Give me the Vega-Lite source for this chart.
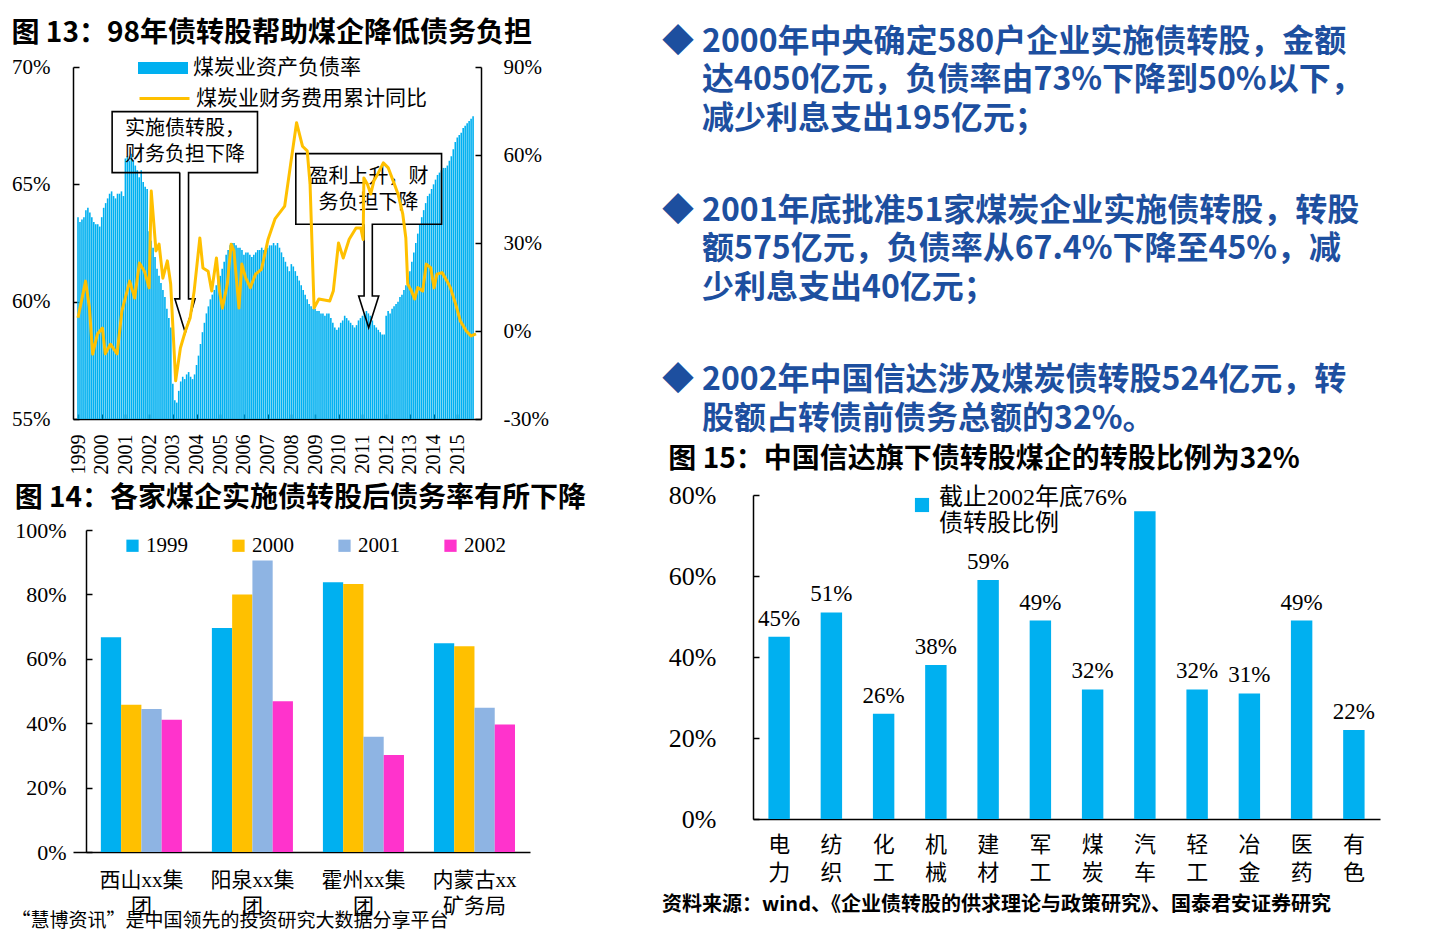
{
  "$schema": "https://vega.github.io/schema/vega-lite/v6.json",
  "background": "white",
  "padding": {"left": 11, "top": 19, "right": 5, "bottom": 0},
  "config": {
    "view": {"stroke": null},
    "font": "Noto Sans CJK SC",
    "axis": {"grid": false, "domainColor": "#000", "tickColor": "#000", "labelColor": "#000", "domainWidth": 1.5, "tickWidth": 1.5, "labelOverlap": false},
    "title": {"color": "#000"},
    "legend": {"labelColor": "#000"}
  },
  "datasets": {
    "bars13": [
      {"t":1999,"v":63.6},{"t":1999.083,"v":63.4},{"t":1999.167,"v":63.5},{"t":1999.25,"v":63.6},{"t":1999.333,"v":63.9},{"t":1999.417,"v":64.0},{"t":1999.5,"v":63.8},{"t":1999.583,"v":63.6},{"t":1999.667,"v":63.4},{"t":1999.75,"v":63.3},{"t":1999.833,"v":63.3},{"t":1999.917,"v":63.2},
      {"t":2000,"v":63.6},{"t":2000.083,"v":64.0},{"t":2000.167,"v":64.2},{"t":2000.25,"v":64.4},{"t":2000.333,"v":64.6},{"t":2000.417,"v":64.7},{"t":2000.5,"v":64.5},{"t":2000.583,"v":64.4},{"t":2000.667,"v":64.6},{"t":2000.75,"v":64.6},{"t":2000.833,"v":64.7},{"t":2000.917,"v":64.5},
      {"t":2001,"v":66.1},{"t":2001.083,"v":66.2},{"t":2001.167,"v":66.0},{"t":2001.25,"v":66.3},{"t":2001.333,"v":66.0},{"t":2001.417,"v":65.8},{"t":2001.5,"v":65.6},{"t":2001.583,"v":65.3},{"t":2001.667,"v":65.6},{"t":2001.75,"v":65.1},{"t":2001.833,"v":64.9},{"t":2001.917,"v":64.8},
      {"t":2002,"v":63.0},{"t":2002.083,"v":62.6},{"t":2002.167,"v":62.3},{"t":2002.25,"v":61.9},{"t":2002.333,"v":61.4},{"t":2002.417,"v":61.1},{"t":2002.5,"v":60.8},{"t":2002.583,"v":60.5},{"t":2002.667,"v":60.2},{"t":2002.75,"v":59.7},{"t":2002.833,"v":59.3},{"t":2002.917,"v":58.9},
      {"t":2003,"v":56.5},{"t":2003.083,"v":55.8},{"t":2003.167,"v":55.7},{"t":2003.25,"v":56.2},{"t":2003.333,"v":56.6},{"t":2003.417,"v":56.8},{"t":2003.5,"v":56.7},{"t":2003.583,"v":56.9},{"t":2003.667,"v":57.0},{"t":2003.75,"v":56.8},{"t":2003.833,"v":56.7},{"t":2003.917,"v":56.9},
      {"t":2004,"v":57.3},{"t":2004.083,"v":57.7},{"t":2004.167,"v":58.2},{"t":2004.25,"v":58.7},{"t":2004.333,"v":59.1},{"t":2004.417,"v":59.5},{"t":2004.5,"v":59.8},{"t":2004.583,"v":60.1},{"t":2004.667,"v":60.3},{"t":2004.75,"v":60.5},{"t":2004.833,"v":60.7},{"t":2004.917,"v":60.9},
      {"t":2005,"v":61.1},{"t":2005.083,"v":61.4},{"t":2005.167,"v":61.7},{"t":2005.25,"v":62.0},{"t":2005.333,"v":62.2},{"t":2005.417,"v":62.4},{"t":2005.5,"v":62.5},{"t":2005.583,"v":62.5},{"t":2005.667,"v":62.4},{"t":2005.75,"v":62.3},{"t":2005.833,"v":62.3},{"t":2005.917,"v":62.2},
      {"t":2006,"v":62.0},{"t":2006.083,"v":62.1},{"t":2006.167,"v":62.1},{"t":2006.25,"v":62.0},{"t":2006.333,"v":61.9},{"t":2006.417,"v":62.0},{"t":2006.5,"v":62.1},{"t":2006.583,"v":62.2},{"t":2006.667,"v":62.2},{"t":2006.75,"v":62.3},{"t":2006.833,"v":62.2},{"t":2006.917,"v":62.1},
      {"t":2007,"v":62.3},{"t":2007.083,"v":62.4},{"t":2007.167,"v":62.4},{"t":2007.25,"v":62.5},{"t":2007.333,"v":62.4},{"t":2007.417,"v":62.5},{"t":2007.5,"v":62.3},{"t":2007.583,"v":62.1},{"t":2007.667,"v":61.9},{"t":2007.75,"v":61.7},{"t":2007.833,"v":61.5},{"t":2007.917,"v":61.3},
      {"t":2008,"v":61.6},{"t":2008.083,"v":61.5},{"t":2008.167,"v":61.3},{"t":2008.25,"v":61.1},{"t":2008.333,"v":60.9},{"t":2008.417,"v":60.7},{"t":2008.5,"v":60.5},{"t":2008.583,"v":60.3},{"t":2008.667,"v":60.1},{"t":2008.75,"v":59.9},{"t":2008.833,"v":59.8},{"t":2008.917,"v":59.7},
      {"t":2009,"v":59.7},{"t":2009.083,"v":59.6},{"t":2009.167,"v":59.6},{"t":2009.25,"v":59.5},{"t":2009.333,"v":59.5},{"t":2009.417,"v":59.4},{"t":2009.5,"v":59.5},{"t":2009.583,"v":59.5},{"t":2009.667,"v":59.3},{"t":2009.75,"v":59.1},{"t":2009.833,"v":58.9},{"t":2009.917,"v":58.8},
      {"t":2010,"v":58.9},{"t":2010.083,"v":59.1},{"t":2010.167,"v":59.2},{"t":2010.25,"v":59.4},{"t":2010.333,"v":59.3},{"t":2010.417,"v":59.2},{"t":2010.5,"v":59.1},{"t":2010.583,"v":59.0},{"t":2010.667,"v":58.9},{"t":2010.75,"v":59.0},{"t":2010.833,"v":59.2},{"t":2010.917,"v":59.3},
      {"t":2011,"v":59.4},{"t":2011.083,"v":59.5},{"t":2011.167,"v":59.6},{"t":2011.25,"v":59.5},{"t":2011.333,"v":59.4},{"t":2011.417,"v":59.2},{"t":2011.5,"v":59.0},{"t":2011.583,"v":58.9},{"t":2011.667,"v":58.8},{"t":2011.75,"v":58.7},{"t":2011.833,"v":58.6},{"t":2011.917,"v":58.6},
      {"t":2012,"v":59.4},{"t":2012.083,"v":59.6},{"t":2012.167,"v":59.5},{"t":2012.25,"v":59.7},{"t":2012.333,"v":59.8},{"t":2012.417,"v":59.9},{"t":2012.5,"v":60.0},{"t":2012.583,"v":60.2},{"t":2012.667,"v":60.3},{"t":2012.75,"v":60.5},{"t":2012.833,"v":60.7},{"t":2012.917,"v":61.0},
      {"t":2013,"v":61.3},{"t":2013.083,"v":61.7},{"t":2013.167,"v":62.1},{"t":2013.25,"v":62.5},{"t":2013.333,"v":62.9},{"t":2013.417,"v":63.3},{"t":2013.5,"v":63.6},{"t":2013.583,"v":63.9},{"t":2013.667,"v":64.2},{"t":2013.75,"v":64.5},{"t":2013.833,"v":64.6},{"t":2013.917,"v":64.8},
      {"t":2014,"v":65.0},{"t":2014.083,"v":65.2},{"t":2014.167,"v":65.4},{"t":2014.25,"v":65.5},{"t":2014.333,"v":65.6},{"t":2014.417,"v":65.7},{"t":2014.5,"v":65.7},{"t":2014.583,"v":65.8},{"t":2014.667,"v":66.0},{"t":2014.75,"v":66.2},{"t":2014.833,"v":66.5},{"t":2014.917,"v":66.8},
      {"t":2015,"v":67.0},{"t":2015.083,"v":67.1},{"t":2015.167,"v":67.2},{"t":2015.25,"v":67.4},{"t":2015.333,"v":67.5},{"t":2015.417,"v":67.6},{"t":2015.5,"v":67.7},{"t":2015.583,"v":67.8},{"t":2015.667,"v":67.9}
    ],
    "line13": [
      {"t":1999.00,"v":4.5},{"t":1999.32,"v":17},{"t":1999.48,"v":8},{"t":1999.62,"v":-7.9},{"t":1999.82,"v":-1},
      {"t":2000.03,"v":1},{"t":2000.15,"v":-7.8},{"t":2000.37,"v":-4.5},{"t":2000.65,"v":-7.8},{"t":2000.85,"v":6.8},
      {"t":2001.18,"v":17},{"t":2001.39,"v":11.2},{"t":2001.59,"v":23.2},{"t":2001.80,"v":20.4},{"t":2002.00,"v":14.7},
      {"t":2002.09,"v":47.7},{"t":2002.29,"v":27.3},{"t":2002.42,"v":29.6},{"t":2002.58,"v":18},{"t":2002.77,"v":23.9},{"t":2002.91,"v":16},
      {"t":2003.12,"v":-17},{"t":2003.32,"v":-5.8},{"t":2003.53,"v":0},{"t":2003.73,"v":4.4},{"t":2003.90,"v":13.6},
      {"t":2004.14,"v":31.7},{"t":2004.27,"v":21.5},{"t":2004.49,"v":20.4},{"t":2004.64,"v":13.6},{"t":2004.84,"v":24.9},{"t":2004.97,"v":13.6},
      {"t":2005.09,"v":7.8},{"t":2005.30,"v":16},{"t":2005.46,"v":29.6},{"t":2005.58,"v":27.3},{"t":2005.79,"v":7.8},{"t":2005.91,"v":22.8},
      {"t":2006.07,"v":18.2},{"t":2006.27,"v":14.8},{"t":2006.49,"v":19.4},{"t":2006.74,"v":21},
      {"t":2007.02,"v":31.3},{"t":2007.31,"v":38.2},{"t":2007.72,"v":42.6},{"t":2007.97,"v":56.9},
      {"t":2008.22,"v":71},{"t":2008.47,"v":63},{"t":2008.67,"v":61.4},{"t":2008.79,"v":50},{"t":2008.96,"v":7.8},
      {"t":2009.16,"v":10.9},{"t":2009.62,"v":10.2},{"t":2009.77,"v":13.6},{"t":2009.99,"v":30},
      {"t":2010.19,"v":24.9},{"t":2010.44,"v":31.3},{"t":2010.73,"v":35.1},{"t":2010.93,"v":35.1},
      {"t":2011.03,"v":31.2},{"t":2011.06,"v":52.2},{"t":2011.21,"v":50},{"t":2011.35,"v":46.7},{"t":2011.48,"v":51.1},{"t":2011.67,"v":53.9},{"t":2011.88,"v":57.3},
      {"t":2012.09,"v":55.6},{"t":2012.30,"v":51.1},{"t":2012.50,"v":46.7},{"t":2012.70,"v":39.9},{"t":2012.83,"v":31.7},{"t":2012.91,"v":16},
      {"t":2013.07,"v":13.6},{"t":2013.20,"v":10.9},{"t":2013.33,"v":14.8},{"t":2013.54,"v":13.6},{"t":2013.69,"v":22.8},{"t":2013.88,"v":21.6},
      {"t":2014.02,"v":14.7},{"t":2014.14,"v":19.4},{"t":2014.36,"v":19.9},{"t":2014.57,"v":17},{"t":2014.71,"v":14.8},{"t":2014.93,"v":9.2},
      {"t":2015.13,"v":3.4},{"t":2015.38,"v":0},{"t":2015.58,"v":-1.7},{"t":2015.79,"v":-1}
    ],
    "callout": [
      {"id":"A","seq":1,"t":2003.292,"v":65.5},{"id":"A","seq":2,"t":2000.44,"v":65.5},{"id":"A","seq":3,"t":2000.44,"v":68.1},{"id":"A","seq":4,"t":2006.572,"v":68.1},{"id":"A","seq":5,"t":2006.572,"v":65.5},{"id":"A","seq":6,"t":2003.663,"v":65.5},{"id":"A","seq":7,"t":2003.663,"v":60.12},{"id":"A","seq":8,"t":2003.938,"v":60.12},{"id":"A","seq":9,"t":2003.527,"v":58.68},{"id":"A","seq":10,"t":2003.086,"v":60.12},{"id":"A","seq":11,"t":2003.292,"v":60.12},{"id":"A","seq":12,"t":2003.292,"v":65.5},
      {"id":"B","seq":1,"t":2011.07,"v":63.3},{"id":"B","seq":2,"t":2008.189,"v":63.3},{"id":"B","seq":3,"t":2008.189,"v":66.31},{"id":"B","seq":4,"t":2014.337,"v":66.31},{"id":"B","seq":5,"t":2014.337,"v":63.3},{"id":"B","seq":6,"t":2011.416,"v":63.3},{"id":"B","seq":7,"t":2011.416,"v":60.24},{"id":"B","seq":8,"t":2011.687,"v":60.24},{"id":"B","seq":9,"t":2011.263,"v":58.89},{"id":"B","seq":10,"t":2010.84,"v":60.24},{"id":"B","seq":11,"t":2011.07,"v":60.24},{"id":"B","seq":12,"t":2011.07,"v":63.3}
    ],
    "callouttext": [
      {"t":2003.51,"v":67.35,"text":"实施债转股，"},
      {"t":2003.51,"v":66.25,"text":"财务负担下降"},
      {"t":2011.26,"v":65.33,"text":"盈利上升，财"},
      {"t":2011.26,"v":64.22,"text":"务负担下降"}
    ],
    "c14": [
      {"company":"西山xx集团","year":"1999","value":66.7},{"company":"西山xx集团","year":"2000","value":45.7},{"company":"西山xx集团","year":"2001","value":44.4},{"company":"西山xx集团","year":"2002","value":41.1},
      {"company":"阳泉xx集团","year":"1999","value":69.6},{"company":"阳泉xx集团","year":"2000","value":80.0},{"company":"阳泉xx集团","year":"2001","value":90.5},{"company":"阳泉xx集团","year":"2002","value":46.8},
      {"company":"霍州xx集团","year":"1999","value":83.8},{"company":"霍州xx集团","year":"2000","value":83.2},{"company":"霍州xx集团","year":"2001","value":35.8},{"company":"霍州xx集团","year":"2002","value":30.1},
      {"company":"内蒙古xx矿务局","year":"1999","value":64.8},{"company":"内蒙古xx矿务局","year":"2000","value":63.9},{"company":"内蒙古xx矿务局","year":"2001","value":44.8},{"company":"内蒙古xx矿务局","year":"2002","value":39.6}
    ],
    "c15": [
      {"industry":"电力","value":0.45},{"industry":"纺织","value":0.51},{"industry":"化工","value":0.26},{"industry":"机械","value":0.38},
      {"industry":"建材","value":0.59},{"industry":"军工","value":0.49},{"industry":"煤炭","value":0.32},{"industry":"汽车","value":0.76},
      {"industry":"轻工","value":0.32},{"industry":"冶金","value":0.31},{"industry":"医药","value":0.49},{"industry":"有色","value":0.22}
    ],
    "bullets": [
      {"n":1,"text":"◆\u20052000年中央确定580户企业实施债转股，金额\n\u200B\u3000\u2005达4050亿元，负债率由73%下降到50%以下，\n\u200B\u3000\u2005减少利息支出195亿元；"},
      {"n":2,"text":"◆\u20052001年底批准51家煤炭企业实施债转股，转股\n\u200B\u3000\u2005额575亿元，负债率从67.4%下降至45%，减\n\u200B\u3000\u2005少利息支出40亿元；"},
      {"n":3,"text":"◆\u20052002年中国信达涉及煤炭债转股524亿元，转\n\u200B\u3000\u2005股额占转债前债务总额的32%。"}
    ]
  },
  "concat": [
    {
      "concat": [
        {
          "title": {"text": "图 13：98年债转股帮助煤企降低债务负担", "anchor": "start", "frame": "bounds", "fontSize": 28, "fontWeight": "bold", "font": "Noto Sans CJK SC", "offset": 8},
          "width": 408,
          "height": 352,
          "layer": [
            {
              "layer": [
                {
                  "data": {"name": "bars13"},
                  "mark": {"type": "bar", "size": 1.6},
                  "encoding": {
                    "x": {"field": "t", "type": "quantitative", "title": null, "scale": {"domain": [1999, 2015.79], "nice": false, "zero": false},
                      "axis": {"values": [1999,2000,2001,2002,2003,2004,2005,2006,2007,2008,2009,2010,2011,2012,2013,2014,2015], "format": "d", "labelAngle": -90, "labelFont": "Liberation Serif", "labelFontSize": 20, "tickSize": -5, "labelPadding": 20, "labelFlush": false, "labelOverlap": false, "labelSeparation": 0}},
                    "y": {"field": "v", "type": "quantitative", "title": null, "scale": {"domain": [55, 70], "nice": false, "zero": false},
                      "axis": {"values": [55, 60, 65, 70], "labelExpr": "datum.value + '%'", "labelFont": "Liberation Serif", "labelFontSize": 21, "tickSize": -6, "labelPadding": 29}},
                    "y2": {"datum": 55},
                    "fill": {"datum": "煤炭业资产负债率", "type": "nominal", "scale": {"range": ["#00B0F0"]},
                      "legend": {"orient": "none", "legendX": 77.5, "legendY": -11.5, "title": null, "symbolType": "M-2,-0.48H2V0.48H-2Z", "symbolSize": 625, "symbolStrokeWidth": 0, "labelFont": "Noto Sans CJK SC", "labelFontSize": 21, "labelLimit": 400, "labelOffset": 17.5, "padding": 0}}
                  }
                },
                {
                  "data": {"name": "callout"},
                  "mark": {"type": "line", "color": "#000", "strokeWidth": 1.6},
                  "encoding": {
                    "x": {"field": "t", "type": "quantitative", "title": null, "scale": {"domain": [1999, 2015.79], "nice": false, "zero": false},
                      "axis": {"values": [1999,2000,2001,2002,2003,2004,2005,2006,2007,2008,2009,2010,2011,2012,2013,2014,2015], "format": "d", "labelAngle": -90, "labelFont": "Liberation Serif", "labelFontSize": 20, "tickSize": -5, "labelPadding": 20, "labelFlush": false, "labelOverlap": false, "labelSeparation": 0}},
                    "y": {"field": "v", "type": "quantitative", "title": null, "scale": {"domain": [55, 70], "nice": false, "zero": false}},
                    "detail": {"field": "id"},
                    "order": {"field": "seq"}
                  }
                },
                {
                  "data": {"name": "callouttext"},
                  "mark": {"type": "text", "font": "Noto Sans CJK SC", "fontSize": 20, "color": "#000", "align": "center", "baseline": "middle"},
                  "encoding": {
                    "x": {"field": "t", "type": "quantitative", "title": null, "scale": {"domain": [1999, 2015.79], "nice": false, "zero": false},
                      "axis": {"values": [1999,2000,2001,2002,2003,2004,2005,2006,2007,2008,2009,2010,2011,2012,2013,2014,2015], "format": "d", "labelAngle": -90, "labelFont": "Liberation Serif", "labelFontSize": 20, "tickSize": -5, "labelPadding": 20, "labelFlush": false, "labelOverlap": false, "labelSeparation": 0}},
                    "y": {"field": "v", "type": "quantitative", "title": null, "scale": {"domain": [55, 70], "nice": false, "zero": false}},
                    "text": {"field": "text"}
                  }
                }
              ]
            },
            {
              "data": {"name": "line13"},
              "mark": {"type": "line", "strokeWidth": 3, "strokeJoin": "round"},
              "encoding": {
                "x": {"field": "t", "type": "quantitative", "title": null, "scale": {"domain": [1999, 2015.79], "nice": false, "zero": false},
                  "axis": {"values": [1999,2000,2001,2002,2003,2004,2005,2006,2007,2008,2009,2010,2011,2012,2013,2014,2015], "format": "d", "labelAngle": -90, "labelFont": "Liberation Serif", "labelFontSize": 20, "tickSize": -5, "labelPadding": 20, "labelFlush": false, "labelOverlap": false, "labelSeparation": 0}},
                "y": {"field": "v", "type": "quantitative", "title": null, "scale": {"domain": [-30, 90], "nice": false, "zero": false},
                  "axis": {"orient": "right", "values": [-30, 0, 30, 60, 90], "labelExpr": "datum.value + '%'", "labelFont": "Liberation Serif", "labelFontSize": 21, "tickSize": -6, "labelPadding": 28}},
                "stroke": {"datum": "煤炭业财务费用累计同比", "type": "nominal", "scale": {"range": ["#FFC000"]},
                  "legend": {"orient": "none", "legendX": 77.5, "legendY": 17.5, "title": null, "symbolType": "M-2,0H2", "symbolSize": 625, "symbolStrokeWidth": 3, "labelFont": "Noto Sans CJK SC", "labelFontSize": 21, "labelLimit": 400, "labelOffset": 17.5, "padding": 0}}
              }
            }
          ],
          "resolve": {"scale": {"y": "independent"}}
        },
        {
          "title": {"text": "图 14：各家煤企实施债转股后债务率有所下降", "anchor": "start", "frame": "bounds", "fontSize": 28, "fontWeight": "bold", "font": "Noto Sans CJK SC", "offset": 6},
          "width": 457,
          "height": 322,
          "data": {"name": "c14"},
          "mark": {"type": "bar"},
          "encoding": {
            "x": {"field": "company", "type": "nominal", "sort": null, "title": null, "scale": {"paddingInner": 0.27, "paddingOuter": 0.193, "align": 0.65},
              "axis": {"labelAngle": 0, "ticks": false, "labelExpr": "[substring(datum.label,0,5), substring(datum.label,5)]", "labelFont": "Liberation Serif, Noto Sans CJK SC", "labelFontSize": 21, "labelLineHeight": 26, "labelPadding": 17}},
            "xOffset": {"field": "year", "type": "nominal", "scale": {"paddingInner": 0}},
            "y": {"field": "value", "type": "quantitative", "title": null, "scale": {"domain": [0, 100], "nice": false},
              "axis": {"offset": -13, "values": [0, 20, 40, 60, 80, 100], "labelExpr": "datum.value + '%'", "labelFont": "Liberation Serif", "labelFontSize": 22, "tickSize": -6, "labelPadding": 26}},
            "color": {"field": "year", "type": "nominal", "scale": {"domain": ["1999", "2000", "2001", "2002"], "range": ["#00B0F0", "#FFC000", "#8EB4E3", "#FF33CC"]},
              "legend": {"orient": "none", "legendX": 49, "legendY": 5, "direction": "horizontal", "columns": 4, "title": null, "symbolType": "square", "symbolSize": 150, "symbolStrokeWidth": 0, "labelFont": "Liberation Serif", "labelFontSize": 21, "labelOffset": 3, "columnPadding": 40, "padding": 0}}
          }
        }
      ],
      "columns": 1,
      "spacing": 11,
      "resolve": {"scale": {"fill": "independent", "stroke": "independent", "color": "independent"}},
      "title": {"text": "“慧博资讯”是中国领先的投资研究大数据分享平台", "orient": "bottom", "anchor": "start", "frame": "bounds", "fontSize": 19, "fontWeight": "normal", "font": "Noto Sans CJK SC", "offset": -4}
    },
    {
      "concat": [
        {
          "width": 91,
          "height": 298,
          "data": {"name": "bullets"},
          "mark": {"type": "text", "align": "left", "baseline": "top", "lineBreak": "\n", "lineHeight": 38.5, "font": "Noto Sans CJK SC", "fontSize": 32, "fontWeight": "bold", "color": "#1D4F9F"},
          "encoding": {
            "x": {"datum": 1, "type": "quantitative", "scale": {"domain": [2, 3], "nice": false, "zero": false}, "axis": null},
            "y": {"field": "n", "type": "quantitative", "scale": {"domain": [1.2367, 3], "nice": false, "zero": false, "reverse": true}, "axis": null},
            "text": {"field": "text"}
          }
        },
        {
          "title": {"text": "图 15：中国信达旗下债转股煤企的转股比例为32%", "anchor": "start", "frame": "bounds", "fontSize": 28, "fontWeight": "bold", "font": "Noto Sans CJK SC", "offset": 8},
          "width": 627,
          "height": 324,
          "data": {"name": "c15"},
          "layer": [
            {
              "mark": {"type": "bar"},
              "encoding": {
                "x": {"field": "industry", "type": "nominal", "sort": null, "title": null, "scale": {"paddingInner": 0.59, "paddingOuter": 0.295},
                  "axis": {"labelAngle": 0, "ticks": false, "labelExpr": "[substring(datum.label,0,1), substring(datum.label,1,2)]", "labelFont": "Noto Sans CJK SC", "labelFontSize": 22, "labelLineHeight": 28, "labelPadding": 15}},
                "y": {"field": "value", "type": "quantitative", "title": null, "scale": {"domain": [0, 0.8], "nice": false},
                  "axis": {"values": [0, 0.2, 0.4, 0.6, 0.8], "format": ".0%", "labelFont": "Liberation Serif", "labelFontSize": 26, "tickSize": -6, "labelPadding": 43}},
                "fill": {"datum": "截止2002年底76%债转股比例", "type": "nominal", "scale": {"range": ["#00B0F0"]},
                  "legend": {"orient": "none", "legendX": 157, "legendY": -2, "title": null, "symbolType": "square", "symbolSize": 200, "symbolStrokeWidth": 0, "labelFont": "Liberation Serif, Noto Sans CJK SC", "labelFontSize": 24, "labelExpr": "['截止2002年底76%', '债转股比例']", "labelBaseline": "alphabetic", "labelLimit": 400, "labelOffset": 5, "padding": 0}}
              }
            },
            {
              "transform": [{"filter": "datum.industry !== '汽车'"}],
              "mark": {"type": "text", "baseline": "alphabetic", "dy": -11, "font": "Liberation Serif", "fontSize": 23, "color": "#000"},
              "encoding": {
                "x": {"field": "industry", "type": "nominal", "sort": null},
                "y": {"field": "value", "type": "quantitative"},
                "text": {"field": "value", "type": "quantitative", "format": ".0%"}
              }
            }
          ]
        }
      ],
      "columns": 1,
      "spacing": 11,
      "resolve": {"scale": {"fill": "independent", "stroke": "independent", "color": "independent"}},
      "title": {"text": "资料来源：wind、《企业债转股的供求理论与政策研究》、国泰君安证券研究", "orient": "bottom", "anchor": "start", "frame": "bounds", "fontSize": 20, "fontWeight": "bold", "font": "Noto Sans CJK SC", "offset": 12}
    }
  ],
  "columns": 2,
  "spacing": 75,
  "resolve": {"scale": {"fill": "independent", "stroke": "independent", "color": "independent"}}
}
